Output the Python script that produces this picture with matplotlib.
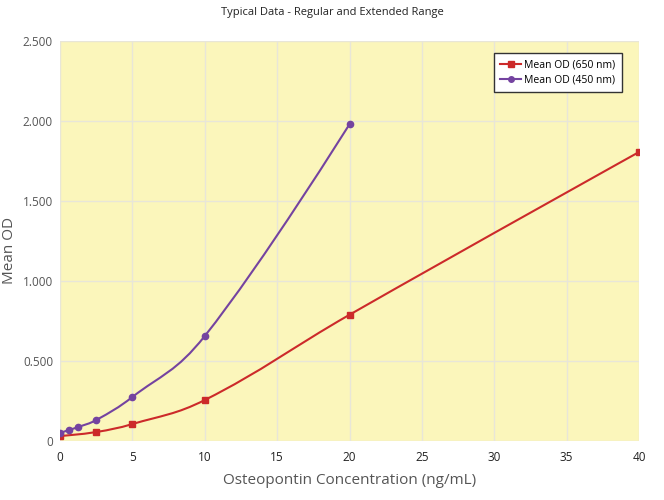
import numpy as np
import matplotlib.pyplot as plt
from matplotlib.path import Path
from matplotlib.patches import PathPatch

# data
conc_650 = [0, 2.5, 5, 10, 20, 40]
od_650 = [0.031, 0.056, 0.106, 0.256, 0.789, 1.806]
conc_450 = [0, 0.625, 1.25, 2.5, 5, 10, 20]
od_450 = [0.050, 0.069, 0.087, 0.131, 0.275, 0.656, 1.980]

x_ticks = [0, 5, 10, 15, 20, 25, 30, 35, 40]
y_ticks = [0, 0.5, 1.0, 1.5, 2.0, 2.5]
y_tick_labels = ['0', '0.500', '1.000', '1.500', '2.000', '2.500']


def spline_path(xs, ys, smoothing=1.5):
	# bezier path with control points like a highcharts spline
	n = len(xs)
	left = [(xs[i], ys[i]) for i in range(n)]
	right = [(xs[i], ys[i]) for i in range(n)]
	d = smoothing + 1
	for i in range(1, n - 1):
		px, py = xs[i], ys[i]
		lx, ly = xs[i - 1], ys[i - 1]
		nx, ny = xs[i + 1], ys[i + 1]
		lcx = (smoothing * px + lx) / d
		lcy = (smoothing * py + ly) / d
		rcx = (smoothing * px + nx) / d
		rcy = (smoothing * py + ny) / d
		if rcx != lcx:
			corr = (rcy - lcy) * (rcx - px) / (rcx - lcx) + py - rcy
			lcy += corr
			rcy += corr
		if lcy > ly and lcy > py:
			lcy = max(ly, py)
			rcy = 2 * py - lcy
		elif lcy < ly and lcy < py:
			lcy = min(ly, py)
			rcy = 2 * py - lcy
		if rcy > ny and rcy > py:
			rcy = max(ny, py)
			lcy = 2 * py - rcy
		elif rcy < ny and rcy < py:
			rcy = min(ny, py)
			lcy = 2 * py - rcy
		left[i] = (lcx, lcy)
		right[i] = (rcx, rcy)
	verts = [(xs[0], ys[0])]
	codes = [Path.MOVETO]
	for i in range(1, n):
		verts += [right[i - 1], left[i], (xs[i], ys[i])]
		codes += [Path.CURVE4] * 3
	return Path(verts, codes)


plt.rcParams['font.family'] = ['Open Sans', 'DejaVu Sans']

fig = plt.figure(figsize=(6.64, 5), dpi=100)
ax = fig.add_axes([60 / 664, 59 / 500, 579 / 664, 400 / 500])
ax.set_facecolor('#fbf6bb')

red = '#cc2a2a'
purple = '#7443a0'

ax.add_patch(PathPatch(spline_path(conc_650, od_650), fill=False, edgecolor=red, lw=1.5, zorder=3))
ax.add_patch(PathPatch(spline_path(conc_450, od_450), fill=False, edgecolor=purple, lw=1.5, zorder=3))
ax.plot(conc_650, od_650, color=red, marker='s', ms=4.5, ls='none', zorder=4)
ax.plot(conc_450, od_450, color=purple, marker='o', ms=4.5, ls='none', zorder=4)
# legend handles
ax.plot([], [], color=red, marker='s', ms=4, lw=1.5, label='Mean OD (650 nm)')
ax.plot([], [], color=purple, marker='o', ms=4, lw=1.5, label='Mean OD (450 nm)')

ax.set_xlim(0, 40)
ax.set_ylim(0, 2.5)
ax.set_xticks(x_ticks)
ax.set_yticks(y_ticks)
ax.set_yticklabels(y_tick_labels)
ax.grid(True, color='#e8e6d8', lw=1)
ax.set_axisbelow(True)
for s in ax.spines.values():
	s.set_visible(False)
ax.tick_params(length=0, labelsize=8.5, colors='#555555', pad=5)
ax.tick_params(axis='x', colors='#222222', pad=7)

ax.set_xlabel('Osteopontin Concentration (ng/mL)', fontsize=11, color='#555555')
ax.xaxis.set_label_coords(0.5, -0.08)
fig.text(10 / 664, 0.5, 'Mean OD', rotation=90, ha='center', va='center',
	fontsize=11, color='#555555')
fig.text(0.5, 0.985, 'Typical Data - Regular and Extended Range', ha='center', va='top',
	fontsize=8, color='#222222')

leg = ax.legend(loc='upper right', bbox_to_anchor=(0.979, 0.983), fontsize=7.5, frameon=True,
	fancybox=False, handlelength=2.0, handletextpad=0.3, borderpad=0.6, labelspacing=0.45)
leg.get_frame().set_edgecolor('#333333')
leg.get_frame().set_linewidth(1)
leg.get_frame().set_facecolor('white')
leg.get_frame().set_alpha(1)

fig.savefig('out.png', dpi=100)
